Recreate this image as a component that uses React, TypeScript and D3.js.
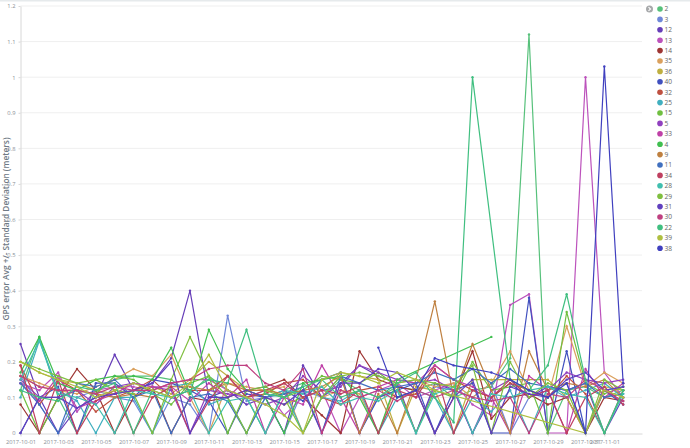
import React, { useEffect, useRef } from 'react';
import { axisBottom, axisLeft, line, scaleLinear, scaleTime, select, timeParse } from 'd3';

const days = [
  '2017-10-01', '2017-10-02', '2017-10-03', '2017-10-04', '2017-10-05', '2017-10-06', '2017-10-07',
  '2017-10-08', '2017-10-09', '2017-10-10', '2017-10-11', '2017-10-12', '2017-10-13', '2017-10-14',
  '2017-10-15', '2017-10-16', '2017-10-17', '2017-10-18', '2017-10-19', '2017-10-20', '2017-10-21',
  '2017-10-22', '2017-10-23', '2017-10-24', '2017-10-25', '2017-10-26', '2017-10-27', '2017-10-28',
  '2017-10-29', '2017-10-30', '2017-10-31', '2017-11-01', '2017-11-02',
];

const xTicks = [
  '2017-10-01', '2017-10-03', '2017-10-05', '2017-10-07', '2017-10-09', '2017-10-11', '2017-10-13',
  '2017-10-15', '2017-10-17', '2017-10-19', '2017-10-21', '2017-10-23', '2017-10-25', '2017-10-27',
  '2017-10-29', '2017-10-31', '2017-11-01',
];
const yTicks = [0, 0.1, 0.2, 0.3, 0.4, 0.5, 0.6, 0.7, 0.8, 0.9, 1, 1.1, 1.2];

const seriesNames = ['2', '3', '12', '13', '14', '35', '36', '40', '32', '25', '15', '5',
  '33', '4', '9', '11', '34', '28', '29', '31', '30', '22', '39', '38'];

const colors = ['#57c17b', '#6f87d8', '#663db8', '#bc52bc', '#9e3533', '#daa05d', '#bfaf40', '#4050bf',
  '#bf5040', '#40afbf', '#70bf40', '#9040bf', '#bf40a7', '#40bf50', '#bf8040', '#4070bf',
  '#bf4060', '#40bfaf', '#80bf40', '#6040bf', '#bf4080', '#40bf80', '#afbf40', '#4040bf'];

const s2 = [0.12, 0.27, 0.1, 0, 0.12, 0.15, 0.16, 0.16, 0.15, 0.11, 0.16, 0.12, 0.1, 0, 0.12, 0.14, 0.1, 0.15, 0.12, 0.1, 0.13, 0.12, 0.14, 0.1, 0.12, 0.13, 0.21, 1.12, 0, 0.12, 0.13, 0.1, 0.12];
const s3 = [0.16, 0.08, 0, 0.1, 0.12, 0.1, 0.09, 0, 0.1, 0.08, 0, 0.33, 0.09, 0.1, 0, 0.12, 0.1, 0.16, 0, 0.1, 0.12, 0, 0.13, 0.12, 0.1, 0.14, 0, 0.1, 0.12, 0.14, 0, 0.12, 0.13];
const s12 = [0.25, 0.1, 0, 0.07, 0.1, 0.22, 0.12, 0.14, 0.21, 0.4, 0.1, 0.12, 0.08, 0.1, 0, 0.19, 0.1, 0.14, 0.19, 0.16, 0.14, 0, 0.14, 0.12, 0, 0.1, 0.14, 0.1, 0.13, 0.12, 0.14, 0, 0.1];
const s13 = [0.14, 0.12, 0.17, 0.06, 0.12, 0.13, 0.13, 0.12, 0.14, 0.15, 0.15, 0.12, 0.1, 0.12, 0.05, 0.1, 0.12, 0, 0.1, 0.12, 0.14, 0.1, 0.12, 0.14, 0.08, 0.05, 0.36, 0.39, 0, 0, 1.0, 0.17, 0.1];
const s14 = [0.08, 0, 0.1, 0.18, 0.12, 0, 0.1, 0.13, 0, 0.1, 0.09, 0.1, 0.12, 0.13, 0.15, 0.1, 0.05, 0, 0.23, 0.15, 0.13, 0.12, 0, 0.1, 0.23, 0.04, 0.1, 0.11, 0.08, 0.1, 0, 0.1, 0.09];
const s35 = [0.16, 0.14, 0.12, 0.11, 0.13, 0.15, 0.18, 0.16, 0.22, 0.1, 0, 0.14, 0.13, 0.12, 0.13, 0, 0.1, 0.12, 0.11, 0, 0.14, 0.15, 0.13, 0.14, 0.1, 0.14, 0.23, 0.12, 0.1, 0.3, 0.13, 0.17, 0.14];
const s36 = [0.2, 0.17, 0.15, 0.14, 0.12, 0.11, 0.12, 0.13, 0.11, 0.15, 0.2, 0.16, 0.12, 0.1, 0.08, 0.1, 0.12, 0.17, 0.16, 0.15, 0, 0.13, 0.12, 0, 0.15, 0.15, 0.15, 0.15, 0.15, 0.1, 0, 0.13, 0.12];
const s40 = [0, 0.1, 0.13, 0, 0.14, 0.14, 0.1, 0.15, 0.14, 0.12, 0.09, 0, 0.11, 0.1, 0.12, 0.09, 0.15, 0.17, 0, 0.1, 0.12, 0.14, 0, 0.12, 0.14, 0, 0, 0.38, 0, 0.23, 0, 0.12, 0.08];
const s32 = [0.19, 0.08, 0.15, 0.12, 0.06, 0.1, 0.12, 0.15, 0.1, 0.12, 0.12, 0.16, 0.1, 0.11, 0.14, 0.15, 0.1, 0.08, 0.12, 0.13, 0.1, 0.11, 0.19, 0.15, 0.12, 0.1, 0.14, 0.12, 0.1, 0.16, 0.11, 0, 0.12];
const s25 = [0.1, 0.26, 0.12, 0.09, 0, 0.1, 0.1, 0, 0.13, 0.14, 0.08, 0.1, 0, 0.1, 0.12, 0, 0.1, 0.09, 0.12, 0, 0.1, 0.12, 0.1, 0, 0.1, 0.06, 0.12, 0, 0.13, 0.1, 0.12, 0.14, 0.1];
const s15 = [0.12, 0, 0.1, 0.12, 0.11, 0.16, 0.15, 0.11, 0.08, 0.14, 0.16, 0, 0.12, 0.13, 0.1, 0.12, 0.16, 0.15, 0.14, 0.17, 0.13, 0, 0.12, 0.1, 0.2, 0.12, 0.13, 0.14, 0, 0.34, 0.14, 0.11, 0.13];
const s5 = [0.15, 0.1, 0.1, 0.12, 0.08, 0.13, 0.14, 0.13, 0.12, 0, 0.12, 0.11, 0.1, 0.08, 0.1, 0.16, 0.12, 0.13, 0.19, 0.17, 0.15, 0.14, 0.15, 0.12, 0, 0.12, 0.15, 0.1, 0.12, 0.17, 0.15, 0.14, 0.15];
const s33 = [0.14, 0.09, 0.16, 0.07, 0.09, 0.11, 0.14, 0.13, 0.13, 0.09, 0.14, 0.1, 0.15, 0, 0.1, 0.08, 0.19, 0.1, 0, 0.13, 0.15, 0.14, 0.19, 0.15, 0.13, 0.1, 0, 0.16, 0.12, 0, 0.18, 0.1, 0.14];
const s4 = [0.17, 0.27, 0.14, 0.12, 0.15, 0.16, 0.16, 0.15, 0.24, 0.11, 0.29, 0.18, 0.12, 0.1, 0, 0.14, 0.15, 0.16, 0.1, 0, 0.15, null, null, null, null, 0.27, null, null, null, null, null, null, null];
const s9 = [0.16, 0.13, 0.12, 0.12, 0.11, 0.1, 0.11, 0.1, 0.13, 0.13, 0.12, 0.14, 0.12, 0.12, 0.11, 0.12, 0.13, 0.16, 0, 0.11, 0, 0.15, 0.37, 0.1, 0.25, 0.12, 0, 0.23, 0.12, 0.14, 0.13, 0.15, 0.1];
const s11 = [0.14, 0.08, 0, 0.14, 0.13, 0.15, 0.1, 0.12, 0, 0.1, 0.11, 0.09, 0, 0.1, 0.11, 0.13, 0, 0.16, 0.14, 0.12, 0.13, 0.14, 0.17, 0.15, 0.18, 0.14, 0.18, 0.14, 0.13, 0.12, 0.14, 0.1, 0.11];
const s34 = [0.19, 0, 0.15, 0, 0.09, 0.12, 0, 0.1, 0.13, 0, 0.09, 0.16, 0.1, 0.12, 0.14, 0.1, 0.12, 0.11, 0.13, 0, 0.12, 0.1, 0.18, 0, 0.12, 0.1, 0.15, 0.1, 0.12, 0, 0.1, 0.13, 0.08];
const s28 = [0.15, 0.26, 0.11, 0.1, 0.08, 0, 0.12, 0.11, 0.1, 0.12, 0, 0.09, 0.1, 0, 0.12, 0.11, 0.13, 0.08, 0.1, 0.09, 0.12, 0, 0.11, 0.13, 0, 0.11, 0.1, 0.12, 0.13, 0.11, 0.1, 0, 0.11];
const s29 = [0.2, 0.18, 0.16, 0.14, 0.15, 0.12, 0.11, 0, 0.15, 0.27, 0.16, 0.1, 0, 0.12, 0.1, 0, 0.1, 0.16, 0.17, 0.16, 0.14, 0.15, 0.14, 0.13, 0.19, 0, 0.2, 0.1, 0.14, 0.12, 0, 0.15, 0.12];
const s31 = [0, 0.1, 0.1, 0.07, 0.1, 0.11, 0.12, 0.14, 0.2, 0, 0.1, 0.1, 0.12, 0.1, 0.08, 0.12, 0, 0.14, 0.14, 0.18, 0.17, 0.12, 0, 0.1, 0.15, 0, 0.13, 0.11, 0.1, 0.15, 0.17, 0.12, 0.13];
const s30 = [0.16, 0.13, 0.12, 0.12, 0.11, 0.13, 0.12, 0.12, 0.14, 0.15, 0.18, 0.19, 0.19, 0.14, 0.12, 0.18, 0, 0.12, 0.1, 0.12, 0.09, 0.12, 0.1, 0.12, 0.1, 0.09, 0.1, 0, 0.11, 0.1, 0.15, 0.12, 0.09];
const s22 = [0.12, 0.1, 0.09, 0.13, 0.12, 0.14, 0, 0.12, 0.1, 0.12, 0.15, 0.14, 0.29, 0.11, 0.1, 0.13, 0.15, 0.1, 0.12, 0.1, 0.14, 0.17, 0.1, 0.03, 1.0, null, 0.15, 0.12, 0.19, 0.39, 0.15, 0, 0.12];
const s39 = [0.2, 0.17, 0.15, 0.13, 0.1, 0.12, 0.14, 0.12, 0.1, 0.14, 0.22, 0.12, 0.1, 0.08, 0.05, 0, 0.15, 0.17, 0.16, 0.14, 0.17, 0.15, 0.12, null, null, null, null, null, null, null, 0, 0.12, 0.1];
const s38 = [null, null, null, null, null, null, null, null, null, null, null, null, null, null, null, null, null, null, null, 0.24, 0.1, 0.12, 0.21, 0.19, 0.18, 0.17, 0.15, 0.12, 0.1, 0.14, 0, 1.03, 0.14];

const seriesValues = [s2, s3, s12, s13, s14, s35, s36, s40, s32, s25, s15, s5, s33, s4, s9, s11, s34, s28, s29, s31, s30, s22, s39, s38];

const parse = timeParse('%Y-%m-%d');
const font = '"Open Sans", sans-serif';

export default function App() {
  const svgRef = useRef<SVGSVGElement>(null);

  useEffect(() => {
    const svg = select(svgRef.current);
    svg.selectAll('*').remove();

    const x = scaleTime()
      .domain([parse('2017-10-01') as Date, parse('2017-11-03') as Date])
      .range([20.5, 642]);
    const y = scaleLinear().domain([0, 1.2]).range([433, 6]);

    // top panel border
    svg.append('rect').attr('x', 0).attr('y', 0).attr('width', 690).attr('height', 1.5).attr('fill', '#e6eaec');

    // grid
    svg.append('g')
      .selectAll('line')
      .data(yTicks.filter((t) => t > 0))
      .join('line')
      .attr('x1', 20.5)
      .attr('x2', 642)
      .attr('y1', (d) => y(d))
      .attr('y2', (d) => y(d))
      .attr('stroke', '#efefef')
      .attr('stroke-width', 1);

    const yAxis = svg.append('g')
      .attr('transform', 'translate(20.5,0)')
      .call(axisLeft(y).tickValues(yTicks).tickSize(2).tickSizeOuter(0).tickPadding(3).tickFormat((d: any) => String(d)));
    const xAxis = svg.append('g')
      .attr('transform', 'translate(0,433.5)')
      .call(axisBottom(x).tickValues(xTicks.map((t) => parse(t) as Date)).tickSize(3).tickSizeOuter(0).tickPadding(3)
        .tickFormat((d: any, i: number) => xTicks[i]));

    [yAxis, xAxis].forEach((ax) => {
      ax.select('.domain').attr('stroke', '#d8d8d8');
      ax.selectAll('.tick line').attr('stroke', '#d8d8d8');
      ax.selectAll('.tick text')
        .attr('fill', '#8a9096')
        .style('font-size', '5.8px')
        .style('font-family', font);
    });

    svg.append('text')
      .attr('transform', 'rotate(-90)')
      .attr('x', -229)
      .attr('y', 8.5)
      .attr('text-anchor', 'middle')
      .attr('fill', '#6f7a85')
      .style('font-size', '8.3px')
      .style('font-weight', '600')
      .style('font-family', font)
      .text('GPS error Avg +/- Standard Deviation (meters)');

    const series = seriesNames.map((name, i) => ({
      name,
      color: colors[i],
      points: days
        .map((d, j) => ({ date: parse(d) as Date, value: seriesValues[i][j] }))
        .filter((p) => p.value !== null) as { date: Date; value: number }[],
    }));

    const lineGen = line<{ date: Date; value: number }>()
      .x((d) => x(d.date))
      .y((d) => y(d.value));

    const plot = svg.append('g');
    series.forEach((s) => {
      plot.append('path')
        .attr('d', lineGen(s.points))
        .attr('fill', 'none')
        .attr('stroke', s.color)
        .attr('stroke-width', 1.2);
      plot.selectAll(null)
        .data(s.points)
        .join('circle')
        .attr('cx', (d) => x(d.date))
        .attr('cy', (d) => y(d.value))
        .attr('r', 1.2)
        .attr('fill', s.color);
    });

    // legend
    const legend = svg.append('g');
    legend.append('circle').attr('cx', 649.5).attr('cy', 9).attr('r', 3.5).attr('fill', '#a7a9ab');
    legend.append('path').attr('d', 'M648.5,7.2 L650.5,9 L648.5,10.8').attr('fill', 'none').attr('stroke', '#fff').attr('stroke-width', 1.1);
    series.forEach((s, i) => {
      const ly = 9 + i * 10.4;
      legend.append('circle').attr('cx', 660).attr('cy', ly).attr('r', 2.8).attr('fill', s.color);
      legend.append('text')
        .attr('x', 664.5)
        .attr('y', ly + 2.4)
        .attr('fill', '#666')
        .style('font-size', '6.6px')
        .style('font-family', font)
        .text(s.name);
    });
  }, []);

  return (
    <svg ref={svgRef} width={690} height={448}
      style={{ position: 'absolute', left: 0, top: 0, background: '#fff' }} />
  );
}
